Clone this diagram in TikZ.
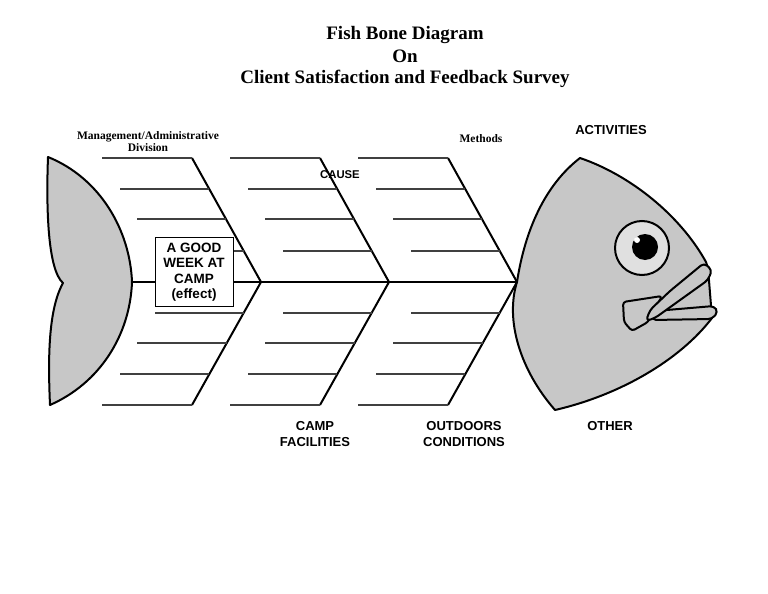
\documentclass[tikz,border=0pt]{standalone}
\usepackage{fontspec}
\setmainfont{Liberation Serif}
\newfontfamily\sansf{Liberation Sans}
\begin{document}
\begin{tikzpicture}[x=1pt,y=-1pt,
  bone/.style={line width=2pt},
  rib/.style={line width=1.1pt,black!75},
  outl/.style={line width=2pt,fill=black!22,line join=round},
  ttl/.style={font=\fontsize{19}{22}\selectfont\bfseries,align=center},
  slab/.style={font=\fontsize{11.5}{12}\selectfont\bfseries,align=center,inner sep=0pt},
  klab/.style={font=\sansf\fontsize{13}{16}\selectfont\bfseries,align=center,inner sep=0pt}]
\useasboundingbox (0,0) rectangle (768,594);
% title
\node[ttl] (t1) at (405,35) {Fish Bone Diagram};
\node[ttl] (t2) at (405,56) {On};
\node[ttl] (t3) at (405,79) {Client Satisfaction and Feedback Survey};
% tail
\draw[outl] (48,157) .. controls (100,178) and (130,230) .. (132,282)
  .. controls (130,335) and (100,383) .. (50,405)
  .. controls (48,360) and (48,310) .. (63,283)
  .. controls (48,270) and (46,210) .. (48,157) -- cycle;
% spine
\coordinate (sp0) at (132,282);
\coordinate (a1) at (261,282);
\coordinate (a2) at (389,282);
\coordinate (a3) at (517,282);
\draw[bone] (sp0) -- (a3);
\foreach \i/\dx in {1/0,2/128,3/256}{
  \draw[bone] (192+\dx,158) -- (a\i) -- (192+\dx,405);
  \foreach \y/\s in {158/102,189/120,219/137,251/155}{
    \pgfmathsetmacro{\xe}{192+\dx+(\y-158)*69/124}
    \draw[rib] (\s+\dx,\y) -- (\xe,\y);}
  \foreach \y/\s in {313/155,343/137,374/120,405/102}{
    \pgfmathsetmacro{\xe}{192+\dx+(405-\y)*69/123}
    \draw[rib] (\s+\dx,\y) -- (\xe,\y);}
}
% effect box
\node[draw,line width=0.8pt,fill=white,minimum width=78pt,minimum height=69pt,klab,font=\sansf\fontsize{13.5}{15.5}\selectfont\bfseries] (eff) at (194,272) {A GOOD\\WEEK AT\\CAMP\\(effect)};
% head
\draw[outl] (580,158) .. controls (630,175) and (680,215) .. (706,262)
  -- (708,268) -- (712,318)
  .. controls (680,360) and (620,395) .. (555,410)
  .. controls (520,370) and (505,320) .. (517,282)
  .. controls (525,230) and (545,185) .. (580,158) -- cycle;
% lips
\draw[outl,rounded corners=3pt] (623,302) -- (662,296) -- (648,322) -- (632,331) -- (624,322) -- cycle;
\draw[outl,rounded corners=4pt] (655,311) -- (714,306) -- (718,312) -- (712,319) -- (652,320) -- cycle;
\draw[outl,rounded corners=4pt] (704,263) -- (712,270) -- (708,280) -- (655,318) -- (646,321) -- (650,310) -- (670,291) -- cycle;
% eye
\node[draw,line width=2pt,circle,fill=black!12,minimum size=54pt,inner sep=0pt] (eye) at (642,248) {};
\node[circle,fill=black,minimum size=26pt,inner sep=0pt] (pupil) at (645,247) {};
\node[circle,fill=white,minimum size=6pt,inner sep=0pt] (hl) at (637,240) {};
% labels
\node[slab] (l1) at (148,142) {Management/Administrative\\Division};
\node[slab] (l2) at (481,139) {Methods};
\node[klab] (l3) at (611,130) {ACTIVITIES};
\node[klab,font=\sansf\fontsize{11.3}{12}\selectfont\bfseries] (l4) at (340,175) {CAUSE};
\node[klab] (l5) at (315,434) {CAMP\\FACILITIES};
\node[klab] (l6) at (464,434) {OUTDOORS\\CONDITIONS};
\node[klab] (l7) at (610,426) {OTHER};
\end{tikzpicture}
\end{document}
